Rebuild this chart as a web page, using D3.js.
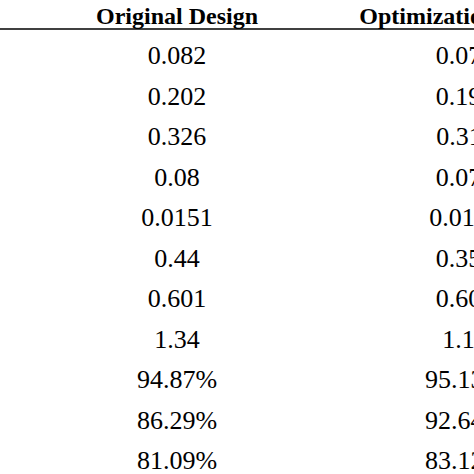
<!DOCTYPE html>
<html><head><meta charset="utf-8">
<script src="https://cdn.jsdelivr.net/npm/d3@7"></script>
<style>body{margin:0;background:#fff;overflow:hidden}svg text{font-family:"Liberation Serif","Times New Roman",Times,serif}</style>
</head><body>
<script>
const headers = ["Parameter", "Original Design", "Optimization Design"];
const original = ["0.082", "0.202", "0.326", "0.08", "0.0151", "0.44", "0.601", "1.34", "94.87%", "86.29%", "81.09%"];
const optimized = ["0.071", "0.191", "0.311", "0.071", "0.0132", "0.352", "0.602", "1.12", "95.13%", "92.64%", "83.12%"];

const W = 474, H = 474;
const svg = d3.select("body").append("svg").attr("width", W).attr("height", H);
const x = d3.scalePoint().domain(headers).range([-111, 465]);
const y = d3.scalePoint().domain(d3.range(original.length)).range([55, 460]);

svg.append("g").selectAll("text").data(headers).join("text")
  .attr("x", d => x(d)).attr("y", 16).attr("dy", "0.35em")
  .attr("text-anchor", "middle")
  .attr("font-weight", "bold").attr("font-size", 24).text(d => d);

svg.append("line").attr("x1", 0).attr("x2", W).attr("y1", 29).attr("y2", 29)
  .attr("stroke", "#000").attr("stroke-width", 1.5);

[[headers[1], original], [headers[2], optimized]].forEach(([col, vals]) => {
  svg.append("g").selectAll("text").data(vals).join("text")
    .attr("x", x(col)).attr("y", (d, i) => y(i)).attr("dy", "0.35em")
    .attr("text-anchor", "middle")
    .attr("font-size", 26).text(d => d);
});
</script>
</body></html>
